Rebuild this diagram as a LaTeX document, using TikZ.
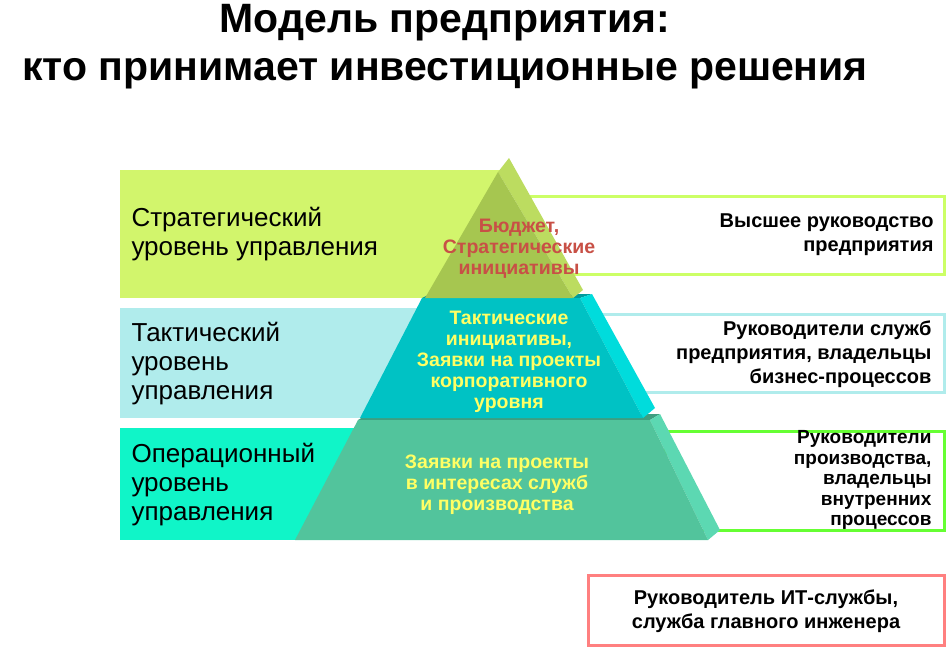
\documentclass[tikz,border=0pt]{standalone}
\usepackage{fontspec}
\setmainfont{Liberation Sans}
\begin{document}
\begin{tikzpicture}[x=1pt,y=-1pt,
 lbl/.style={anchor=west,align=left,font=\fontsize{26}{29}\selectfont},
 pyr/.style={align=center,font=\bfseries\fontsize{19.5}{21}\selectfont},
 rt/.style={align=right,font=\bfseries\fontsize{20}{24}\selectfont},
 rbox/.style={fill=white,line width=3pt}]
\useasboundingbox (0,0) rectangle (950,651);
\definecolor{sband}{HTML}{D2F56C}\definecolor{tband}{HTML}{B0ECEC}\definecolor{oband}{HTML}{10F5C8}
\definecolor{sfront}{HTML}{A6C650}\definecolor{sside}{HTML}{BCDC60}
\definecolor{tfront}{HTML}{00C2C4}\definecolor{tside}{HTML}{00DCDC}
\definecolor{ofront}{HTML}{52C49C}\definecolor{oside}{HTML}{5CD8B2}\definecolor{otop}{HTML}{3E9E80}
% title
\node[font=\bfseries\fontsize{41}{48}\selectfont,align=center] (title) at (445,47) {Модель предприятия:\\кто принимает инвестиционные решения};
% right boxes
\draw[rbox,draw={rgb,255:red,204;green,255;blue,102}] (530,196) rectangle (944,274);
\draw[rbox,draw={rgb,255:red,176;green,236;blue,236}] (600,314) rectangle (944,392);
\draw[rbox,draw={rgb,255:red,102;green,255;blue,51}] (665,431) rectangle (944,530);
\draw[rbox,draw={rgb,255:red,255;green,128;blue,128}] (588,575) rectangle (944,645);
% bands
\fill[sband] (120,170) rectangle (500,298);
\fill[tband] (120,308) rectangle (430,418);
\fill[oband] (120,428) rectangle (380,540);
% bottom tier
\fill[otop] (358,420) -- (368,414) -- (660,414) -- (650,420) -- cycle;
\fill[oside] (650,420) -- (660,414) -- (720,530) -- (708,540) -- cycle;
\fill[ofront] (358,420) -- (650,420) -- (708,540) -- (295,540) -- cycle;
% middle tier
\fill[tfront!80!black] (422,298) -- (430,294) -- (592,294) -- (580,298) -- cycle;
\fill[tside] (580,298) -- (592,294) -- (655,408) -- (643,418) -- cycle;
\fill[tfront] (422,298) -- (580,298) -- (643,418) -- (360,418) -- cycle;
% top tier
\fill[sside] (498,172) -- (509,158) -- (583,290) -- (573,298) -- cycle;
\fill[sfront] (498,172) -- (573,298) -- (425,298) -- cycle;
% texts
\node[lbl] (s) at (128,234) {Стратегический\\уровень управления};
\node[lbl] (t) at (128,364) {Тактический\\уровень\\управления};
\node[lbl] (o) at (128,485) {Операционный\\уровень\\управления};
\node[pyr,text={rgb,255:red,200;green,80;blue,70}] (ps) at (519,249) {Бюджет,\\Стратегические\\инициативы};
\node[pyr,text={rgb,255:red,255;green,255;blue,100}] (pt) at (509,362) {Тактические\\инициативы,\\Заявки на проекты\\корпоративного\\уровня};
\node[pyr,text={rgb,255:red,255;green,255;blue,100},align=center] (po) at (497,485) {Заявки на проекты\\в интересах служб\\и производства};
\node[rt,anchor=east] (rs) at (937,235) {Высшее руководство\\предприятия};
\node[rt,anchor=east] (rt1) at (935,354) {Руководители служб\\предприятия, владельцы\\бизнес-процессов};
\node[rt,anchor=east,font=\bfseries\fontsize{19}{20.5}\selectfont] (ro) at (935,480) {Руководители\\производства,\\владельцы\\внутренних\\процессов};
\node[rt,align=center] (rit) at (766,611) {Руководитель ИТ-службы,\\служба главного инженера};
\end{tikzpicture}
\end{document}
